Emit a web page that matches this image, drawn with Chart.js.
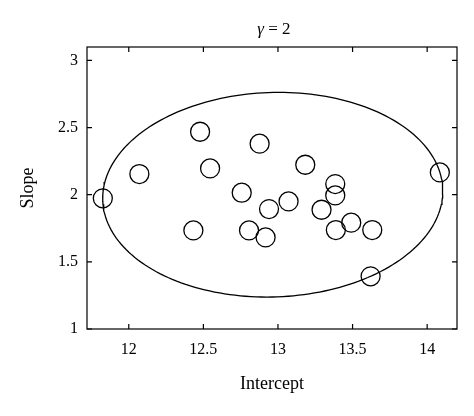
<!DOCTYPE html>
<html><head><script src="https://cdn.jsdelivr.net/npm/chart.js@4"></script>
<style>body{margin:0;background:#fff}</style></head>
<body><canvas id="c" width="474" height="416" style="width:474px;height:416px"></canvas>
<script>
const intercept=[11.826,12.071,12.478,12.545,12.433,12.877,12.757,12.940,12.806,12.917,13.071,13.183,13.292,13.384,13.384,13.388,13.491,13.632,13.621,14.085];
const slope=[1.973,2.154,2.469,2.196,1.734,2.380,2.015,1.893,1.734,1.682,1.950,2.223,1.888,2.079,1.995,1.737,1.792,1.737,1.392,2.166];
const xTicks=[12,12.5,13,13.5,14];
const yTicks=[1,1.5,2,2.5,3];
const ellipse={cx:12.965,cy:2.0,a:1.139,b:0.762,skew:0.04};
const ell=[];
for(let i=0;i<=200;i++){const t=i/200*2*Math.PI;ell.push({x:ellipse.cx+ellipse.a*Math.cos(t)+ellipse.skew*Math.sin(t),y:ellipse.cy+ellipse.b*Math.sin(t)});}
const F='"Liberation Serif", serif';
const deco={id:'deco',afterDraw(ch){const c=ch.ctx,a=ch.chartArea,xs=ch.scales.x,ys=ch.scales.y;
c.save();c.strokeStyle='#000';c.lineWidth=1.2;c.strokeRect(a.left,a.top,a.right-a.left,a.bottom-a.top);
c.beginPath();xTicks.forEach(v=>{const p=xs.getPixelForValue(v);c.moveTo(p,a.bottom);c.lineTo(p,a.bottom-5);c.moveTo(p,a.top);c.lineTo(p,a.top+5);});
yTicks.forEach(v=>{const p=ys.getPixelForValue(v);c.moveTo(a.left,p);c.lineTo(a.left+5,p);c.moveTo(a.right,p);c.lineTo(a.right-5,p);});c.stroke();
c.fillStyle='#000';c.font='16px '+F;c.textAlign='center';c.textBaseline='middle';
xTicks.forEach(v=>c.fillText(String(v),xs.getPixelForValue(v),350));
c.textAlign='right';yTicks.forEach(v=>c.fillText(String(v),78,ys.getPixelForValue(v)));
c.font='18px '+F;c.textAlign='center';c.fillText('Intercept',(a.left+a.right)/2,384);
c.save();c.translate(28,(a.top+a.bottom)/2);c.rotate(-Math.PI/2);c.fillText('Slope',0,0);c.restore();
c.font='italic 17px '+F;c.textAlign='right';c.fillText('γ',264,30);c.font='17px '+F;c.textAlign='left';c.fillText(' = 2',264,30);
c.restore();}};
new Chart(document.getElementById('c'),{type:'scatter',
data:{datasets:[
{data:intercept.map((x,i)=>({x,y:slope[i]})),pointRadius:9.5,pointBorderColor:'#000',pointBackgroundColor:'rgba(0,0,0,0)',pointBorderWidth:1.3,pointHoverRadius:9.5},
{type:'line',data:ell,borderColor:'#000',borderWidth:1.3,pointRadius:0,fill:false,tension:0}]},
options:{responsive:false,animation:false,events:[],
layout:{padding:{top:47,right:17,left:0,bottom:0}},
plugins:{legend:{display:false},tooltip:{enabled:false}},
scales:{x:{type:'linear',min:11.72,max:14.2,grid:{display:false},border:{display:false},ticks:{display:false},afterFit(s){s.height=87;}},
y:{type:'linear',min:1,max:3.1,grid:{display:false},border:{display:false},ticks:{display:false},afterFit(s){s.width=87;}}}},
plugins:[deco]});
</script></body></html>
